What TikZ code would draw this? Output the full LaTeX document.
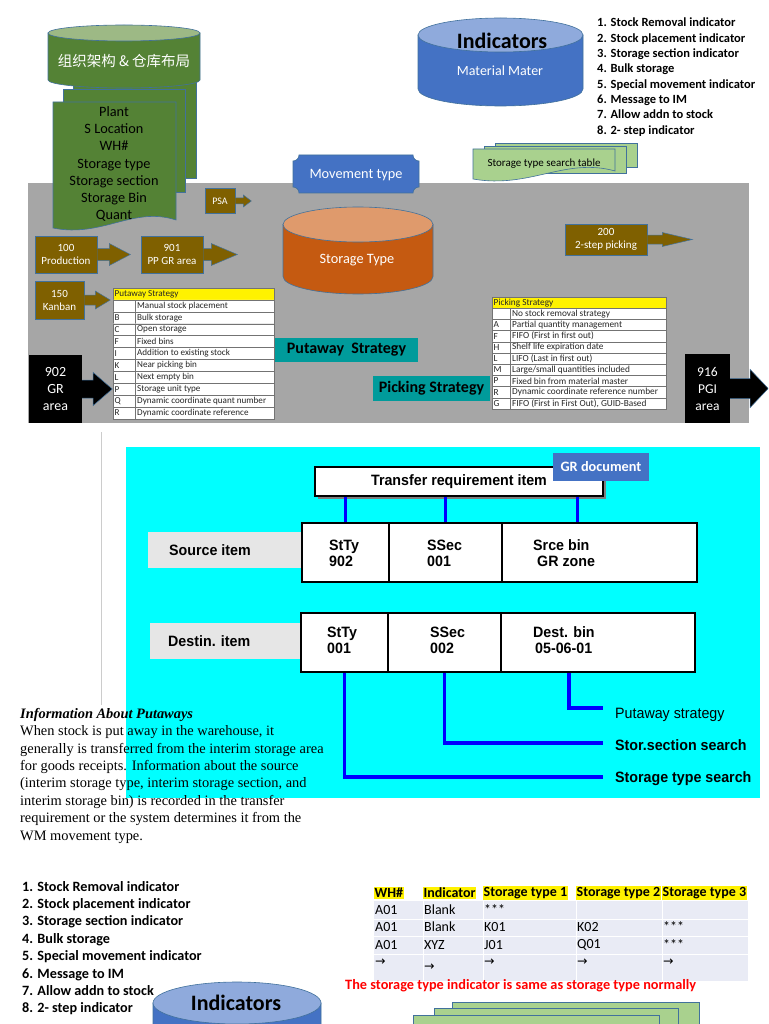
\documentclass[tikz,border=0pt]{standalone}
\usepackage{fontspec}
\setmainfont{Carlito}
\newfontfamily\cjkfont{Noto Sans CJK SC}
\newfontfamily\narrowfont[FakeStretch=0.95]{Liberation Sans}
\newfontfamily\timesfont{Liberation Serif}
\newfontfamily\symfont{DejaVu Sans}
\usepackage{xcolor}
\usetikzlibrary{positioning,shadows}

\definecolor{orggreen}{HTML}{548235}
\definecolor{orggreentop}{HTML}{9DB985}
\definecolor{shapeline}{HTML}{41719C}
\definecolor{indblue}{HTML}{4472C4}
\definecolor{indbluetop}{HTML}{8FAADC}
\definecolor{stor}{HTML}{C55A11}
\definecolor{stortop}{HTML}{DF9A6C}
\definecolor{panelgray}{HTML}{A6A6A6}
\definecolor{callbrown}{HTML}{7F6000}
\definecolor{stratteal}{HTML}{009B9B}
\definecolor{searchgreen}{HTML}{A9D18E}
\definecolor{trcyan}{HTML}{00FFFF}
\definecolor{linkblue}{HTML}{0000FF}
\definecolor{itemgray}{HTML}{E6E6E6}
\definecolor{tabrow}{HTML}{E9EBF5}
\definecolor{notered}{HTML}{FF0000}

\tikzset{
  docline/.style={draw=shapeline, line width=0.6pt},
  callbox/.style={draw=shapeline, line width=0.5pt, fill=callbrown, text=white, align=center, font=\fontsize{11pt}{13pt}\selectfont},
  grbox/.style={fill=black, text=white, align=center, font=\fontsize{14pt}{17pt}\selectfont},
  tabline/.style={draw=black!55, line width=0.4pt},
  puttxt/.style={anchor=west, text=black!85, font=\fontsize{9.1pt}{10pt}\selectfont},
  picktxt/.style={anchor=west, text=black!85, font=\fontsize{9.3pt}{10pt}\selectfont},
  stratlabel/.style={fill=stratteal, font=\bfseries\fontsize{16pt}{18pt}\selectfont},
  itemlabel/.style={fill=itemgray, anchor=north west},
  rowcell/.style={draw, line width=1.6pt, fill=white, anchor=north west, minimum height=59},
  celltxt/.style={anchor=west, align=left, font=\narrowfont\bfseries\fontsize{15pt}{16pt}\selectfont},
  bluelink/.style={draw=linkblue, line width=3.5pt},
  linklabel/.style={anchor=west, font=\narrowfont\bfseries\fontsize{15pt}{17pt}\selectfont},
  hdrtxt/.style={anchor=west, fill=yellow, inner xsep=0.5pt, inner ysep=1.5pt, font=\bfseries\fontsize{14pt}{16pt}\selectfont},
  tabtxt/.style={anchor=west, font=\fontsize{14pt}{16pt}\selectfont},
  arrowtxt/.style={anchor=west, font=\symfont\fontsize{12.5pt}{13pt}\selectfont},
  listtxt/.style={anchor=north west, align=left, font=\bfseries\fontsize{12.5pt}{15.3pt}\selectfont}
}

% cylinder: centre x, top y, bottom y, x radius, y radius, body, lid
\newcommand{\drawcyl}[7]{%
  \filldraw[fill=#6, docline] ({#1-#4},#2) -- ({#1-#4},#3)
    arc[start angle=180, end angle=360, x radius=#4pt, y radius=#5pt] -- ({#1+#4},#2) -- cycle;
  \filldraw[fill=#7, docline] (#1,#2) ellipse[x radius=#4pt, y radius=#5pt];}
% page with wavy foot: x0, y0, x1, y1, fill
\newcommand{\docpage}[5]{%
  \filldraw[fill=#5, docline] (#1,#2) -- (#3,#2) -- (#3,{#4-8})
    .. controls ({#3-0.35*(#3-#1)},{#4-22}) and ({#1+0.4*(#3-#1)},{#4+10}) .. (#1,#4) -- cycle;}
% plaque: x0, y0, x1, y1, corner
\newcommand{\plaque}[5]{%
  \filldraw[fill=indblue, docline] ({#1+#5},#2) -- ({#3-#5},#2)
    arc[start angle=180, end angle=270, radius=#5pt] -- (#3,{#4-#5})
    arc[start angle=90, end angle=180, radius=#5pt] -- ({#1+#5},#4)
    arc[start angle=0, end angle=90, radius=#5pt] -- (#1,{#2+#5})
    arc[start angle=-90, end angle=0, radius=#5pt] -- cycle;}
% arrow out of a callout box: node, neck length, head length, neck half, head half, fill
\newcommand{\callarrow}[6]{%
  \filldraw[fill=#6, draw=shapeline, line width=0.5pt] ([yshift=#4pt]#1.east) -- ++(#2,0) -- ++(0,{#4-#5})
    -- ++(#3,#5) -- ++(-#3,#5) -- ++(0,{#4-#5}) -- ++(-#2,0);}
% strategy table rows: name, top y, code, text
\newcommand{\putrow}[4]{%
  \draw[tabline, fill=white] (113,#2) rectangle (135,{#2+11.9}) (135,#2) rectangle (274,{#2+11.9});
  \node[puttxt] (#1c) at (114.5,{#2+6}) {#3};
  \node[puttxt] (#1t) at (137,{#2+6}) {#4};}
\newcommand{\pickrow}[4]{%
  \draw[tabline, fill=white] (492,#2) rectangle (510,{#2+11.2}) (510,#2) rectangle (666,{#2+11.2});
  \node[picktxt] (#1c) at (493.5,{#2+5.6}) {#3};
  \node[picktxt] (#1t) at (512,{#2+5.6}) {#4};}
% search table row: name, y, five cells
\newcommand{\searchrow}[7]{%
  \node[tabtxt] (#1a) at (375,#2) {#3};
  \node[tabtxt] (#1b) at (424,#2) {#4};
  \node[tabtxt] (#1c) at (484,#2) {#5};
  \node[tabtxt] (#1d) at (577,#2) {#6};
  \node[tabtxt] (#1e) at (663,#2) {#7};}

\begin{document}
\begin{tikzpicture}[x=1pt, y=-1pt, every node/.style={inner sep=0pt}]
\useasboundingbox (0,0) rectangle (768,1024);
\fill[white] (0,0) rectangle (768,1024);
\clip (0,0) rectangle (768,1024);

% warehouse panel
\fill[panelgray] (28,183) rectangle (749,423);

% org structure
\filldraw[fill=orggreen, docline] (73,82) rectangle (196,178);
\filldraw[fill=orggreen, docline] (63,89) rectangle (185,192);
\docpage{53}{102}{176}{228}{orggreen}
\drawcyl{124}{33}{80}{76}{8}{orggreen}{orggreentop}
\node[text=white, font=\cjkfont\fontsize{14.5pt}{16pt}\selectfont] (org) at (124,61) {组织架构 \& 仓库布局};
\node[align=center, font=\fontsize{14.3pt}{17.2pt}\selectfont] (orgitems) at (114,164) {Plant\\S Location\\WH\#\\Storage type\\Storage section\\Storage Bin\\Quant};

% indicators (material master)
\drawcyl{500.5}{35}{89}{82.5}{17}{indblue}{indbluetop}
\node[font=\bfseries\fontsize{22pt}{24pt}\selectfont] (indtop) at (502,41) {Indicators};
\node[text=white, font=\fontsize{14pt}{16pt}\selectfont] (matmaster) at (500,71) {Material Mater};
\node[listtxt] (indlist) at (597,18) {1. Stock Removal indicator\\2. Stock placement indicator\\3. Storage section indicator\\4. Bulk storage\\5. Special movement indicator\\6. Message to IM\\7. Allow addn to stock\\8. 2- step indicator};

% storage type search table
\filldraw[fill=searchgreen, docline] (495,143) rectangle (637,167);
\filldraw[fill=searchgreen, docline] (484,146) rectangle (626,173);
\docpage{473}{149}{615}{179}{searchgreen}
\node[font=\fontsize{11pt}{12pt}\selectfont] (stsearch) at (544,164) {Storage type search table};

% movement type and storage type
\plaque{293}{155}{419}{193}{6}
\node[text=white, font=\fontsize{14.3pt}{16pt}\selectfont] (movetype) at (356,175) {Movement type};
\drawcyl{358}{224.5}{276.5}{75}{17.5}{stor}{stortop}
\node[text=white, font=\fontsize{14.3pt}{16pt}\selectfont] (stortype) at (357,260) {Storage Type};

% storage areas
\node[callbox, minimum width=30, minimum height=25, font=\fontsize{10pt}{11pt}\selectfont] (psa) at (220,201) {PSA};
\callarrow{psa}{8}{8}{3}{6}{callbrown}
\node[callbox, minimum width=62, minimum height=37] (prod) at (66,254.5) {100\\Production};
\callarrow{prod}{12}{21}{6}{11}{callbrown}
\node[callbox, minimum width=62, minimum height=37] (ppgr) at (172,254.5) {901\\PP GR area};
\callarrow{ppgr}{8}{26}{6}{11}{callbrown}
\node[callbox, minimum width=49, minimum height=38] (kanban) at (59.5,300) {150\\Kanban};
\callarrow{kanban}{11}{15}{5}{9}{callbrown}
\node[callbox, minimum width=82, minimum height=31, font=\fontsize{11pt}{13pt}\selectfont] (twostep) at (606,239.5) {200\\2-step picking};
\callarrow{twostep}{15}{30}{4.5}{7}{callbrown}
\node[grbox, minimum width=53, minimum height=68] (gr902) at (55.5,389) {902\\GR\\area};
\callarrow{gr902}{11}{19}{9}{16.5}{black}
\node[grbox, minimum width=45, minimum height=69, font=\fontsize{13.5pt}{17pt}\selectfont] (pgi916) at (707.5,388.5) {916\\PGI\\area};
\callarrow{pgi916}{20}{18}{10}{19}{black}

% putaway strategy table
\draw[tabline, fill=yellow] (113,288) rectangle (274,299.9);
\node[puttxt] (puthead) at (114.5,294) {Putaway Strategy};
\putrow{pu1}{299.9}{}{Manual stock placement}
\putrow{pu2}{311.8}{B}{Bulk storage}
\putrow{pu3}{323.7}{C}{Open storage}
\putrow{pu4}{335.6}{F}{Fixed bins}
\putrow{pu5}{347.5}{I}{Addition to existing stock}
\putrow{pu6}{359.4}{K}{Near picking bin}
\putrow{pu7}{371.3}{L}{Next empty bin}
\putrow{pu8}{383.2}{P}{Storage unit type}
\putrow{pu9}{395.1}{Q}{Dynamic coordinate quant number}
\putrow{pu10}{407}{R}{Dynamic coordinate reference}

% picking strategy table
\draw[tabline, fill=yellow] (492,297) rectangle (666,308.2);
\node[picktxt] (pickhead) at (493.5,302.6) {Picking Strategy};
\pickrow{pi1}{308.2}{}{No stock removal strategy}
\pickrow{pi2}{319.4}{A}{Partial quantity management}
\pickrow{pi3}{330.6}{F}{FIFO (First in first out)}
\pickrow{pi4}{341.8}{H}{Shelf life expiration date}
\pickrow{pi5}{353}{L}{LIFO (Last in first out)}
\pickrow{pi6}{364.2}{M}{Large/small quantities included}
\pickrow{pi7}{375.4}{P}{Fixed bin from material master}
\pickrow{pi8}{386.6}{R}{Dynamic coordinate reference number}
\pickrow{pi9}{397.8}{G}{FIFO (First in First Out), GUID-Based}

\node[stratlabel, minimum width=143, minimum height=24] (putlbl) at (346.5,350) {Putaway\ \ Strategy};
\node[stratlabel, minimum width=117, minimum height=25] (picklbl) at (431.5,388.5) {Picking Strategy};

% transfer requirement
\fill[trcyan] (126,447) rectangle (760,798);
\draw[black!20, line width=0.6pt] (101,432) -- (101,705);
\node[draw, line width=1.2pt, fill=white, minimum width=288, minimum height=29, drop shadow={opacity=1, shadow xshift=3pt, shadow yshift=-3pt},
  font=\narrowfont\bfseries\fontsize{15pt}{16pt}\selectfont] (tr) at (459,481.5) {Transfer requirement item};
\node[fill=indblue, text=white, minimum width=96, minimum height=28, font=\bfseries\fontsize{14.3pt}{16pt}\selectfont] (grdoc) at (601,467) {GR document};

\node[itemlabel, minimum width=153, minimum height=36] (srclbl) at (148,532) {};
\node[celltxt, anchor=west] (srctxt) at (169,550) {Source item};
\node[rowcell, minimum width=87] (s1) at (301,522) {};
\node[rowcell, minimum width=113] (s2) at (388,522) {};
\node[rowcell, minimum width=195] (s3) at (501,522) {};
\node[celltxt] (s1t) at (329,553) {StTy\\902};
\node[celltxt] (s2t) at (427,553) {SSec\\001};
\node[celltxt] (s3t) at (533,553) {Srce bin\\\hspace{4pt}GR zone};
\draw[bluelink] (s1.north |- tr.south) -- (s1.north);
\draw[bluelink] (s2.north |- tr.south) -- (s2.north);
\draw[bluelink] ([xshift=-22pt]s3.north |- tr.south) -- ([xshift=-22pt]s3.north);

\node[itemlabel, minimum width=150, minimum height=36] (dstlbl) at (150,623) {};
\node[celltxt, anchor=west] (dsttxt) at (168,641) {Destin. item};
\node[rowcell, minimum width=87] (d1) at (300,612) {};
\node[rowcell, minimum width=113] (d2) at (387,612) {};
\node[rowcell, minimum width=194] (d3) at (500,612) {};
\node[celltxt] (d1t) at (327,640) {StTy\\001};
\node[celltxt] (d2t) at (430,640) {SSec\\002};
\node[celltxt] (d3t) at (533,640) {Dest. bin\\\hspace{2pt}05-06-01};

\node[linklabel, font=\narrowfont\fontsize{15pt}{17pt}\selectfont] (putstrat) at (615,715) {Putaway strategy};
\node[linklabel] (secsearch) at (615,745) {Stor.section search};
\node[linklabel] (typesearch) at (615,779) {Storage type search};
\draw[bluelink] ([xshift=-29pt]d3.south) |- ([xshift=-12pt,yshift=7pt]putstrat.west);
\draw[bluelink] (d2.south) |- ([xshift=-12pt,yshift=2pt]secsearch.west);
\draw[bluelink] (d1.south) |- ([xshift=-12pt,yshift=2pt]typesearch.west);

% putaway note
\node[anchor=north west, align=left, font=\timesfont\fontsize{14.4pt}{17.4pt}\selectfont] (putinfo) at (20,708)
  {\textbf{\textit{Information About Putaways}}\\When stock is put away in the warehouse, it\\generally is transferred from the interim storage area\\for goods receipts. Information about the source\\(interim storage type, interim storage section, and\\interim storage bin) is recorded in the transfer\\requirement or the system determines it from the\\WM movement type.};

% indicators list, bottom
\node[listtxt, font=\bfseries\fontsize{14.2pt}{17.4pt}\selectfont] (indlist2) at (22,881) {1. Stock Removal indicator\\2. Stock placement indicator\\3. Storage section indicator\\4. Bulk storage\\5. Special movement indicator\\6. Message to IM\\7. Allow addn to stock\\8. 2- step indicator};
\drawcyl{237}{1003}{1060}{84}{21}{indblue}{indbluetop}
\node[font=\bfseries\fontsize{22pt}{24pt}\selectfont] (indbot) at (236,1003) {Indicators};

% storage type search table
\fill[tabrow] (374,901) rectangle (748,981);
\draw[white, line width=1pt] (374,919) -- (748,919) (374,936) -- (748,936) (374,954) -- (748,954)
  (423,901) -- (423,981) (483,901) -- (483,981) (576,901) -- (576,981) (662,901) -- (662,981);
\node[hdrtxt] (hwh) at (374,893) {WH\#};
\node[hdrtxt] (hind) at (423,893) {Indicator};
\node[hdrtxt] (hst1) at (483,893) {Storage type 1};
\node[hdrtxt] (hst2) at (576,893) {Storage type 2};
\node[hdrtxt] (hst3) at (662,893) {Storage type 3};
\searchrow{ra}{910}{A01}{Blank}{***}{}{}
\searchrow{rb}{927}{A01}{Blank}{K01}{K02}{***}
\searchrow{rc}{945}{A01}{XYZ}{J01}{Q01}{***}
\node[arrowtxt] (rda) at (375,962) {→};
\node[arrowtxt] (rdb) at (424,967) {→};
\node[arrowtxt] (rdc) at (484,962) {→};
\node[arrowtxt] (rdd) at (577,962) {→};
\node[arrowtxt] (rde) at (663,962) {→};
\node[anchor=west, text=notered, font=\bfseries\fontsize{14.3pt}{16pt}\selectfont] (note) at (345,986) {The storage type indicator is same as storage type normally};

% search table pages, bottom
\filldraw[fill=searchgreen, docline] (452,1002) rectangle (699,1040);
\filldraw[fill=searchgreen, docline] (434,1008) rectangle (678,1040);
\filldraw[fill=searchgreen, docline] (413,1015) rectangle (659,1040);
\end{tikzpicture}
\end{document}
